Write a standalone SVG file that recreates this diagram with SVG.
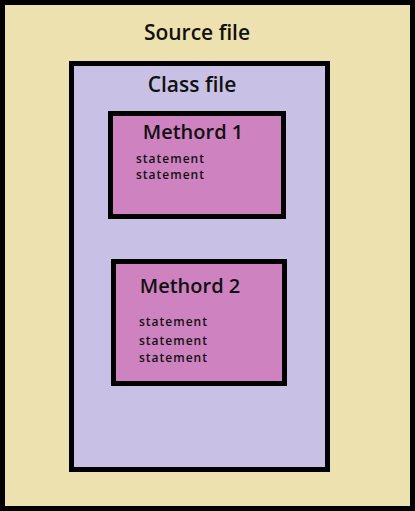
<svg xmlns="http://www.w3.org/2000/svg" width="415" height="511" viewBox="0 0 415 511">
<style>
.box{stroke:#000;stroke-width:5}
.title{font-family:"Open Sans","Liberation Sans",sans-serif;font-weight:600;fill:#111;text-anchor:middle}
.stmt{font-family:"Open Sans","Liberation Sans",sans-serif;font-weight:600;font-size:12px;fill:#111;letter-spacing:1px}
</style>
<g id="source-file">
<rect x="2.5" y="2.5" width="410" height="506" fill="#EDE2AF" class="box"/>
<text x="197" y="40" class="title" font-size="21">Source file</text>
</g>
<g id="class-file">
<rect x="71.5" y="63.5" width="256" height="406" fill="#C8C1E5" class="box"/>
<text x="192" y="92" class="title" font-size="21">Class file</text>
</g>
<g id="method-1">
<rect x="110.5" y="113.5" width="173" height="103" fill="#CE82C0" class="box"/>
<text x="193" y="139" class="title" font-size="20">Methord 1</text>
<text x="136" y="163" class="stmt">statement</text>
<text x="136" y="179" class="stmt">statement</text>
</g>
<g id="method-2">
<rect x="113.5" y="261.5" width="171" height="122" fill="#CE82C0" class="box"/>
<text x="190" y="293" class="title" font-size="20">Methord 2</text>
<text x="139" y="326" class="stmt">statement</text>
<text x="139" y="345" class="stmt">statement</text>
<text x="139" y="362" class="stmt">statement</text>
</g>
<g id="connectors"/>
</svg>
